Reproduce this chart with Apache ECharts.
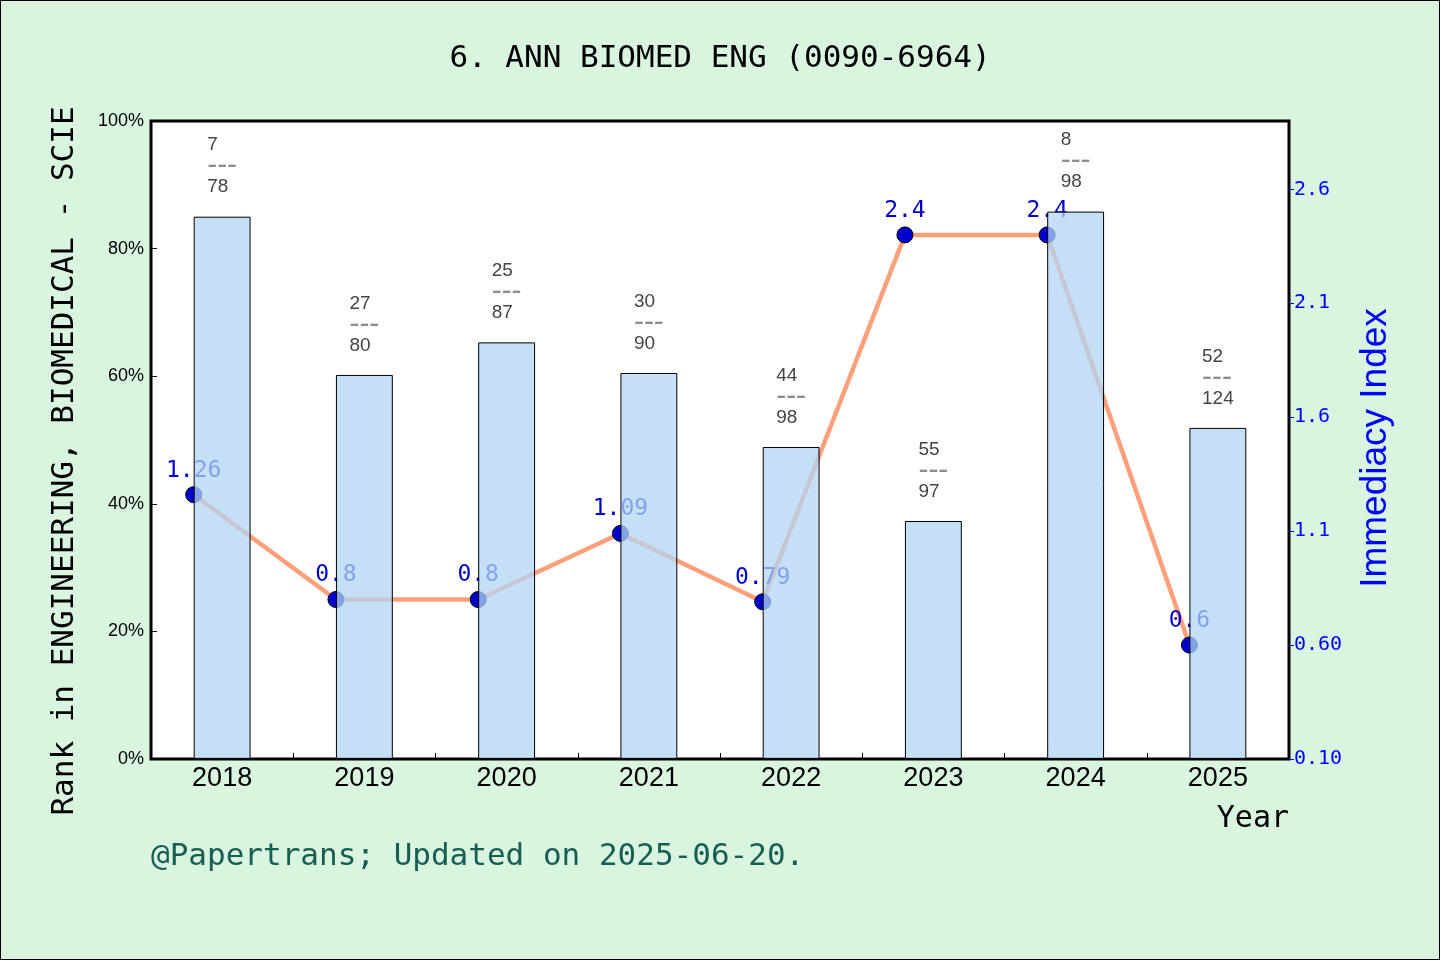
<!DOCTYPE html>
<html>
<head>
<meta charset="utf-8">
<script src="https://cdn.jsdelivr.net/npm/echarts@6/dist/echarts.min.js"></script>
<style>
  html, body { margin: 0; padding: 0; background: #d9f5df; }
  #chart { width: 1440px; height: 960px; box-sizing: border-box; border: 1px solid #000; }
</style>
</head>
<body>
<div id="chart"></div>
<script>
const years = ['2018', '2019', '2020', '2021', '2022', '2023', '2024', '2025']
const rankPct = [85.0, 60.2, 65.3, 60.5, 48.9, 37.3, 85.8, 51.9]
const rankNum = [7, 27, 25, 30, 44, 55, 8, 52]
const rankTotal = [78, 80, 87, 90, 98, 97, 98, 124]
const immediacy = [1.26, 0.8, 0.8, 1.09, 0.79, 2.4, 2.4, 0.6]
const leftTicks = [0, 20, 40, 60, 80, 100]
const rightTicks = [0.1, 0.6, 1.1, 1.6, 2.1, 2.6]

const MONO = '"DejaVu Sans Mono", monospace'
const SANS = '"Liberation Sans", Arial, sans-serif'

const chart = echarts.init(document.getElementById('chart'))

chart.setOption({
  backgroundColor: '#d9f5df',
  animation: false,
  title: {
    text: '6. ANN BIOMED ENG (0090-6964)',
    left: 'center',
    top: 37,
    textStyle: { fontFamily: MONO, fontSize: 31, fontWeight: 'normal', color: '#000' },
  },
  grid: {
    left: 150, right: 150, top: 120, bottom: 200,
    show: true, backgroundColor: '#fff', borderColor: '#000', borderWidth: 3,
  },
  xAxis: [
    {
      type: 'category',
      data: years,
      axisLine: { show: false },
      axisTick: { show: true, inside: true, length: 6, lineStyle: { color: '#000', width: 1 } },
      axisLabel: { color: '#000', fontFamily: SANS, fontSize: 27, margin: 6 },
      splitLine: { show: false },
    },
    { type: 'value', min: -0.5, max: 7.5, show: false },
  ],
  yAxis: [
    {
      type: 'value',
      min: 0,
      max: 100,
      axisLine: { show: false, onZero: false },
      axisTick: { show: true, inside: true, length: 6, lineStyle: { color: '#000' }, customValues: leftTicks },
      axisLabel: { formatter: '{value}%', color: '#000', fontFamily: SANS, fontSize: 18, margin: 7, customValues: leftTicks },
      splitLine: { show: false },
    },
    {
      type: 'value',
      position: 'right',
      min: 0.1,
      max: 2.9,
      axisLine: { show: false, onZero: false },
      axisTick: { show: true, length: 5, lineStyle: { color: '#0000ff' }, customValues: rightTicks },
      axisLabel: {
        color: '#0000ff', fontFamily: MONO, fontSize: 20, margin: 5,
        customValues: rightTicks,
        formatter: v => (v < 1 ? v.toFixed(2) : v.toFixed(1)),
      },
      splitLine: { show: false },
    },
  ],
  graphic: [
    {
      type: 'text',
      x: 64,
      y: 460,
      rotation: Math.PI / 2,
      style: {
        text: 'Rank in ENGINEERING, BIOMEDICAL - SCIE',
        fontFamily: MONO, fontSize: 31, fill: '#000',
        align: 'center', verticalAlign: 'middle',
      },
    },
    {
      type: 'text',
      x: 1375,
      y: 447,
      rotation: Math.PI / 2,
      style: {
        text: 'Immediacy Index',
        fontFamily: SANS, fontSize: 37, fill: '#0000ff',
        align: 'center', verticalAlign: 'middle',
      },
    },
    {
      type: 'text',
      right: 150,
      top: 803,
      style: { text: 'Year', fontFamily: MONO, fontSize: 30, fill: '#000' },
    },
    {
      type: 'text',
      left: 150,
      top: 840,
      style: { text: '@Papertrans; Updated on 2025-06-20.', fontFamily: MONO, fontSize: 31, fill: '#175e52' },
    },
  ],
  series: [
    {
      type: 'line',
      xAxisIndex: 1,
      yAxisIndex: 1,
      z: 2,
      data: immediacy.map((v, i) => [i - 0.2, v]),
      lineStyle: { color: '#ffa07a', width: 4.5 },
      symbol: 'circle',
      symbolSize: 16,
      itemStyle: { color: '#0000cd', borderColor: '#000', borderWidth: 1 },
      label: {
        show: true,
        position: 'top',
        distance: 4,
        color: '#0000cd',
        fontFamily: MONO,
        fontSize: 23,
        formatter: p => String(immediacy[p.dataIndex]),
      },
    },
    {
      type: 'bar',
      xAxisIndex: 0,
      yAxisIndex: 0,
      z: 5,
      barWidth: '40%',
      data: rankPct,
      itemStyle: { color: 'rgba(178,214,243,0.75)', borderColor: '#000', borderWidth: 1 },
      label: {
        show: true,
        position: 'top',
        distance: 19,
        align: 'center',
        formatter: p => `{n|${rankNum[p.dataIndex]}}\n{d|---}\n{n|${rankTotal[p.dataIndex]}}`,
        rich: {
          n: { fontFamily: SANS, fontSize: 19, color: '#444', lineHeight: 21, align: 'left' },
          d: { fontFamily: SANS, fontSize: 30, color: '#8c8c8c', lineHeight: 21, align: 'left' },
        },
      },
    },
  ],
})
</script>
</body>
</html>
